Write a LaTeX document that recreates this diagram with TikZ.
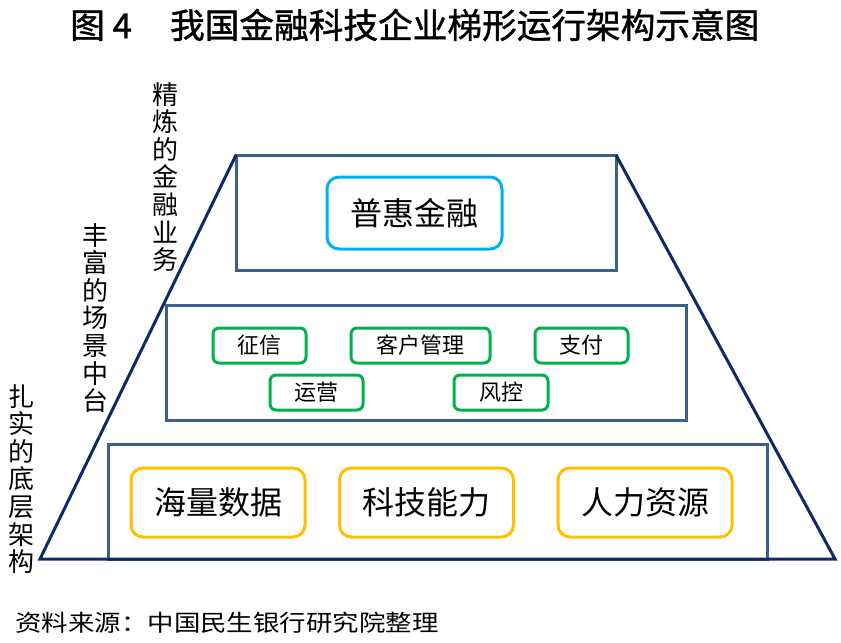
\documentclass[tikz,border=0pt]{standalone}
\usepackage{fontspec}
\setmainfont{Noto Sans CJK SC}
\newfontfamily\titlefont{Noto Sans CJK SC}[FakeBold=1.2]
\begin{document}
\begin{tikzpicture}[x=0.75pt,y=-0.75pt,
  navy/.style={draw=navyc,line width=2.25pt,line join=miter},
  steel/.style={draw=steelc,line width=2.25pt},
  bluebox/.style={draw=bluec,line width=2.25pt,rounded corners=9pt,inner sep=0pt,
    minimum width=131.25pt,minimum height=54pt,font=\fontsize{24pt}{28pt}\selectfont},
  greenbox/.style={draw=greenc,line width=2.25pt,rounded corners=4.5pt,inner sep=0pt,
    minimum width=69.75pt,minimum height=26.25pt,font=\fontsize{16.5pt}{19pt}\selectfont},
  yellowbox/.style={draw=yellowc,line width=2.25pt,rounded corners=9pt,inner sep=0pt,
    minimum width=130.5pt,minimum height=51.75pt,font=\fontsize{24pt}{28pt}\selectfont},
  vlabel/.style={align=center,inner sep=0pt,font=\fontsize{19.5pt}{20.7pt}\selectfont},
]
\definecolor{navyc}{HTML}{0E2A66}
\definecolor{steelc}{HTML}{3D5F8C}
\definecolor{bluec}{HTML}{00B0F0}
\definecolor{greenc}{HTML}{00B050}
\definecolor{yellowc}{HTML}{FFC000}
\useasboundingbox (0,0) rectangle (841,642);
% title
\node[anchor=west,inner sep=0pt,font=\fontsize{26pt}{30pt}\titlefont] (title) at (70,25)
  {图 4\hspace{1.1em}我国金融科技企业梯形运行架构示意图};
% trapezoid corners
\coordinate (tl) at (236,155);
\coordinate (tr) at (616,155);
\coordinate (bl) at (40,559);
\coordinate (br) at (835,559);
% layer boxes
\draw[steel] (236,155) rectangle (616,270);
\draw[steel] (166,305) rectangle (686,420);
\draw[steel] (108,444) rectangle (767,559);
% trapezoid
\draw[navy] (tl) -- (bl) -- (br) -- (tr);
% top layer
\node[bluebox] (phjr) at (414.5,213) {普惠金融};
% middle layer
\node[greenbox] (zx) at (259.5,345.5) {征信};
\node[greenbox,minimum width=104.25pt] (khgl) at (420.5,345.5) {客户管理};
\node[greenbox] (zf) at (581.5,345.5) {支付};
\node[greenbox] (yy) at (316.5,392.5) {运营};
\node[greenbox,minimum width=70.5pt] (fk) at (501,392.5) {风控};
% bottom layer
\node[yellowbox] (hlsj) at (218,502.5) {海量数据};
\node[yellowbox] (kjnl) at (426.5,502.5) {科技能力};
\node[yellowbox] (rlzy) at (645,502.5) {人力资源};
% vertical labels
\node[vlabel] (l1) at (165,177) {精\\炼\\的\\金\\融\\业\\务};
\node[vlabel] (l2) at (95,318) {丰\\富\\的\\场\\景\\中\\台};
\node[vlabel] (l3) at (21,479) {扎\\实\\的\\底\\层\\架\\构};
% source
\node[anchor=west,inner sep=0pt,xscale=1.15,font=\fontsize{17.25pt}{20pt}\selectfont] (src) at (15,623)
  {资料来源：中国民生银行研究院整理};
\end{tikzpicture}
\end{document}
